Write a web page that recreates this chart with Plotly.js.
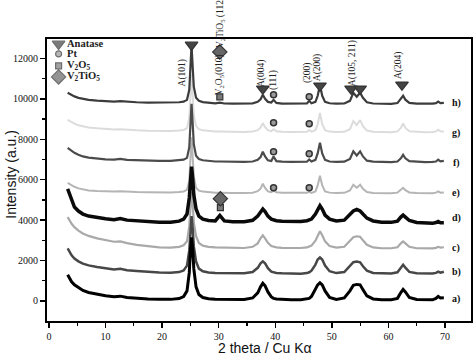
<!DOCTYPE html>
<html>
<head>
<meta charset="utf-8">
<script src="https://cdn.plot.ly/plotly-3.0.1.min.js"></script>
<style>
  html, body { margin: 0; padding: 0; background: #fff; }
  #plot { width: 474px; height: 359px; }
</style>
</head>
<body>
<div id="plot"></div>
<script>
// Diffraction angle grid (degrees 2θ) shared by all patterns
const twoTheta = [3.3, 3.6, 4.0, 4.5, 5.2, 6.0, 7.0, 8.5, 10.0, 11.5, 12.6, 13.8, 15.5, 17.5, 19.5, 21.5, 23.0, 23.8, 24.4, 24.8,
  25.0, 25.2, 25.4, 25.6, 26.0, 26.5, 27.2, 28.2, 29.4, 30.2, 31.0, 32.5, 34.5, 36.0, 36.9, 37.4, 37.8, 38.2, 38.7, 39.3,
  39.7, 40.2, 41.2, 42.8, 44.5, 45.6, 46.0, 46.4, 47.1, 47.5, 47.9, 48.3, 48.8, 49.6, 50.8, 52.2, 53.2, 53.8, 54.4, 55.0,
  55.5, 56.2, 57.3, 58.8, 60.5, 61.6, 62.2, 62.6, 63.0, 63.7, 65.0, 66.5, 67.8, 68.4, 68.8, 69.2, 69.8];

// Offset intensity patterns a) ... h)
const patternA = [1300, 1150, 950, 800, 650, 520, 420, 330, 260, 210, 240, 170, 130, 100, 80, 80, 120, 220, 500, 1400,
  2500, 3150, 2600, 1600, 700, 320, 170, 110, 90, 90, 80, 70, 70, 150, 400, 700, 880, 750, 450, 200,
  130, 100, 80, 60, 60, 90, 130, 220, 550, 800, 900, 800, 500, 180, 80, 150, 500, 780, 820, 800,
  560, 250, 100, 60, 60, 130, 420, 570, 450, 170, 70, 60, 60, 130, 230, 150, 160];

const patternB = [2600, 2430, 2260, 2100, 1960, 1850, 1760, 1680, 1610, 1560, 1590, 1520, 1480, 1440, 1410, 1400, 1430, 1510, 1750, 2500,
  3500, 4200, 3600, 2700, 1950, 1600, 1470, 1410, 1390, 1390, 1380, 1370, 1370, 1430, 1640, 1860, 1960, 1860, 1620, 1450,
  1410, 1390, 1370, 1350, 1350, 1380, 1420, 1500, 1800, 2050, 2150, 2050, 1750, 1470, 1380, 1430, 1720, 1920, 1950, 1910,
  1720, 1500, 1390, 1360, 1360, 1420, 1640, 1790, 1650, 1440, 1370, 1360, 1360, 1390, 1450, 1400, 1450];

const patternC = [4150, 4000, 3820, 3650, 3480, 3340, 3220, 3100, 3000, 2930, 2950, 2860, 2780, 2700, 2650, 2640, 2680, 2760, 2950, 3700,
  4700, 5400, 4800, 3900, 3200, 2870, 2740, 2680, 2650, 2650, 2640, 2620, 2620, 2680, 2850, 3100, 3250, 3100, 2880, 2720,
  2680, 2650, 2630, 2620, 2620, 2650, 2680, 2740, 2980, 3250, 3450, 3250, 2950, 2720, 2640, 2680, 2950, 3150, 3200, 3180,
  3000, 2780, 2650, 2610, 2610, 2660, 2850, 2950, 2850, 2680, 2610, 2600, 2600, 2630, 2680, 2640, 2660];

const patternD = [5550, 5300, 4950, 4650, 4450, 4300, 4200, 4120, 4070, 4020, 4080, 4000, 3960, 3920, 3890, 3900, 3950, 4050, 4300, 5100,
  6000, 6650, 6100, 5250, 4550, 4200, 4050, 3980, 3960, 4230, 3960, 3920, 3920, 3990, 4200, 4420, 4550, 4420, 4200, 4050,
  4000, 3970, 3940, 3920, 3930, 3970, 4000, 4050, 4300, 4550, 4720, 4550, 4250, 4050, 3960, 4000, 4250, 4450, 4530, 4450,
  4300, 4100, 3960, 3900, 3890, 3950, 4150, 4250, 4150, 3980, 3880, 3850, 3840, 3880, 3930, 3870, 3870];

const patternE = [5840, 5790, 5720, 5650, 5570, 5510, 5470, 5440, 5420, 5410, 5430, 5400, 5390, 5380, 5370, 5370, 5390, 5420, 5500, 5950,
  7000, 8100, 7150, 6150, 5600, 5460, 5410, 5380, 5360, 5360, 5350, 5345, 5345, 5360, 5430, 5560, 5800, 5590, 5420, 5380,
  5460, 5380, 5350, 5340, 5340, 5350, 5400, 5350, 5420, 5720, 6200, 5720, 5420, 5360, 5340, 5350, 5470, 5750, 5600, 5750,
  5550, 5390, 5345, 5330, 5330, 5360, 5480, 5600, 5480, 5370, 5340, 5330, 5335, 5360, 5420, 5360, 5370];

const patternF = [7570, 7500, 7420, 7330, 7230, 7150, 7090, 7040, 7010, 6990, 7030, 6980, 6960, 6940, 6930, 6930, 6950, 6990, 7080, 7600,
  8700, 9750, 8800, 7750, 7180, 7020, 6960, 6920, 6900, 6900, 6890, 6880, 6880, 6900, 6980, 7120, 7380, 7150, 6960, 6920,
  7150, 6920, 6890, 6880, 6880, 6890, 7000, 6900, 6980, 7300, 7830, 7300, 6980, 6900, 6880, 6890, 7030, 7400, 7200, 7400,
  7150, 6940, 6890, 6870, 6870, 6900, 7060, 7230, 7060, 6920, 6880, 6870, 6880, 6900, 6990, 6910, 6930];

const patternG = [8960, 8910, 8840, 8770, 8690, 8630, 8580, 8540, 8500, 8480, 8500, 8460, 8440, 8420, 8410, 8410, 8430, 8460, 8550, 9050,
  10100, 11200, 10200, 9200, 8650, 8500, 8440, 8400, 8380, 8380, 8370, 8360, 8360, 8380, 8450, 8580, 8800, 8600, 8450, 8400,
  8500, 8400, 8370, 8360, 8360, 8370, 8460, 8380, 8450, 8750, 9300, 8750, 8450, 8380, 8360, 8370, 8500, 8900, 8700, 8950,
  8650, 8430, 8370, 8350, 8350, 8390, 8560, 8780, 8560, 8400, 8360, 8350, 8360, 8390, 8470, 8390, 8380];

const patternH = [10300, 10250, 10190, 10120, 10050, 10000, 9950, 9910, 9880, 9860, 9890, 9850, 9830, 9815, 9810, 9810, 9830, 9860, 9950, 10450,
  11500, 12650, 11600, 10600, 10050, 9900, 9840, 9800, 9780, 9810, 9770, 9760, 9760, 9780, 9850, 9980, 10200, 10000, 9850, 9820,
  9950, 9800, 9760, 9750, 9750, 9770, 9900, 9780, 9850, 10150, 10690, 10150, 9850, 9780, 9760, 9770, 9900, 10300, 10100, 10300,
  10050, 9830, 9770, 9750, 9750, 9790, 9980, 10150, 9960, 9800, 9760, 9750, 9760, 9790, 9860, 9790, 9800];

// Phase markers placed above the reflections
const anataseX = [25.2, 37.8, 47.9, 53.4, 55.0, 62.4];
const anataseY = [12666, 10494, 10642, 10494, 10494, 10691];
const ptX = [39.7, 46.0, 39.7, 46.0, 39.7, 46.0, 39.7, 46.0];
const ptY = [10197, 10098, 8815, 8765, 7382, 7284, 5605, 5605];
const v2o5X = [30.2, 30.3];
const v2o5Y = [10098, 4617];
const v2tio5X = [30.2, 30.3];
const v2tio5Y = [12320, 5062];

// Reflection labels (the V2TiO5 one sits above the frame, in paper units)
const peakLabels = ['A(101)', 'V<sub>2</sub>O<sub>5</sub>(010)', 'A(004)', '(111)', '(200)', 'A(200)', 'A(105, 211)', 'A(204)'];
const peakLabelX = [23.6, 30.3, 37.7, 39.8, 45.8, 47.6, 53.8, 61.9];
const peakLabelY = [11280, 11180, 11240, 10940, 11280, 11530, 11780, 11630];
const topLabel = 'V<sub>2</sub>TiO<sub>5</sub> (112)';

// Sample labels at the right end of each pattern
const sampleNames = ['a)', 'b)', 'c)', 'd)', 'e)', 'f)', 'g)', 'h)'];
const sampleLabelY = [120, 1410, 2630, 4120, 5360, 6850, 8320, 9800];

// Key entries
const keyNames = ['Anatase', 'Pt', 'V<sub>2</sub>O<sub>5</sub>', 'V<sub>2</sub>TiO<sub>5</sub>'];
const keySymbols = ['triangle-down', 'circle', 'square', 'diamond'];
const keyY = [12716, 12222, 11629, 11086];

const patterns = [
  { y: patternG, color: '#dcdcdc', width: 2 },
  { y: patternE, color: '#b5b5b5', width: 2 },
  { y: patternC, color: '#a9a9a9', width: 2.2 },
  { y: patternH, color: '#3c3c3c', width: 2.2 },
  { y: patternF, color: '#4b4b4b', width: 2.2 },
  { y: patternB, color: '#474747', width: 2.5 },
  { y: patternD, color: '#0a0a0a', width: 3.5 },
  { y: patternA, color: '#000000', width: 3 }
];

const traces = patterns.map(p => ({
  x: twoTheta, y: p.y, type: 'scatter', mode: 'lines',
  line: { color: p.color, width: p.width }, hoverinfo: 'skip', showlegend: false
}));

const markerLine = { color: '#333', width: 1.2 };
traces.push({ x: anataseX, y: anataseY, type: 'scatter', mode: 'markers', showlegend: false,
  marker: { symbol: 'triangle-down', size: 11, color: '#444', line: markerLine } });
traces.push({ x: ptX, y: ptY, type: 'scatter', mode: 'markers', showlegend: false,
  marker: { symbol: 'circle', size: 6, color: '#9a9a9a', line: { color: '#333', width: 1.5 } } });
traces.push({ x: v2o5X, y: v2o5Y, type: 'scatter', mode: 'markers', showlegend: false,
  marker: { symbol: 'square', size: 6, color: '#7a7a7a', line: markerLine } });
traces.push({ x: v2tio5X, y: v2tio5Y, type: 'scatter', mode: 'markers', showlegend: false,
  marker: { symbol: 'diamond', size: 11, color: '#666', line: markerLine } });

// key symbols
traces.push({ x: keyY.map(() => 1.7), y: keyY, type: 'scatter', mode: 'markers', showlegend: false, cliponaxis: false,
  marker: { symbol: keySymbols, size: [11, 6, 6, 11], color: ['#444', '#9a9a9a', '#7a7a7a', '#666'], line: markerLine } });

const serif = 'Liberation Serif, Times New Roman, serif';
const sans = 'Liberation Sans, Arial, sans-serif';

const annotations = [];
peakLabels.forEach((t, i) => annotations.push({
  x: peakLabelX[i], y: peakLabelY[i], xref: 'x', yref: 'y', text: t, textangle: -90,
  xanchor: 'center', yanchor: 'middle',
  showarrow: false, font: { family: serif, size: 9.5, color: '#222' }
}));
annotations.push({
  x: 30.3, y: 1.058, xref: 'x', yref: 'paper', text: topLabel, textangle: -90,
  xanchor: 'center', yanchor: 'middle',
  showarrow: false, font: { family: serif, size: 9.5, color: '#222' }
});
sampleNames.forEach((t, i) => annotations.push({
  x: 72.0, y: sampleLabelY[i], xref: 'x', yref: 'y', text: '<b>' + t + '</b>',
  xanchor: 'center', yanchor: 'middle',
  showarrow: false, font: { family: serif, size: 10, color: '#111' }
}));
keyNames.forEach((t, i) => annotations.push({
  x: 2.9, y: keyY[i], xref: 'x', yref: 'y', text: '<b>' + t + '</b>', xanchor: 'left', yanchor: 'middle',
  showarrow: false, font: { family: serif, size: 10.5, color: '#222' }
}));
annotations.push({ xref: 'paper', yref: 'paper', x: -0.084, y: 0.52, text: 'Intensity (a.u.)', textangle: -90,
  xanchor: 'center', yanchor: 'middle',
  showarrow: false, font: { family: sans, size: 14, color: '#111' } });
annotations.push({ xref: 'paper', yref: 'paper', x: 0.515, y: -0.094, text: '2 theta / Cu K\u03b1',
  xanchor: 'center', yanchor: 'middle',
  showarrow: false, font: { family: sans, size: 14, color: '#111' } });

const layout = {
  width: 474, height: 359,
  margin: { l: 46.5, r: 3, t: 39, b: 37.5 },
  paper_bgcolor: '#fff', plot_bgcolor: '#fff',
  showlegend: false,
  xaxis: {
    range: [-0.35, 74.6], showgrid: false, zeroline: false,
    showline: true, mirror: true, linecolor: '#000', linewidth: 2,
    ticks: 'outside', ticklen: 5, tickwidth: 1.5, tickcolor: '#000',
    dtick: 10, tick0: 0, tickformat: 'd',
    minor: { dtick: 5, ticks: 'outside', ticklen: 3, tickwidth: 1.2, tickcolor: '#000', showgrid: false },
    tickfont: { family: serif, size: 10, color: '#111' }
  },
  yaxis: {
    range: [-990, 12960], showgrid: false, zeroline: false,
    showline: true, mirror: true, linecolor: '#000', linewidth: 2,
    ticks: 'outside', ticklen: 5, tickwidth: 1.5, tickcolor: '#000',
    dtick: 2000, tick0: 0, tickformat: 'd', separatethousands: false, exponentformat: 'none',
    minor: { dtick: 1000, ticks: 'outside', ticklen: 3, tickwidth: 1.2, tickcolor: '#000', showgrid: false },
    tickfont: { family: serif, size: 10, color: '#111' }
  },
  annotations: annotations
};

Plotly.newPlot('plot', traces, layout, { displayModeBar: false, staticPlot: true });
</script>
</body>
</html>
